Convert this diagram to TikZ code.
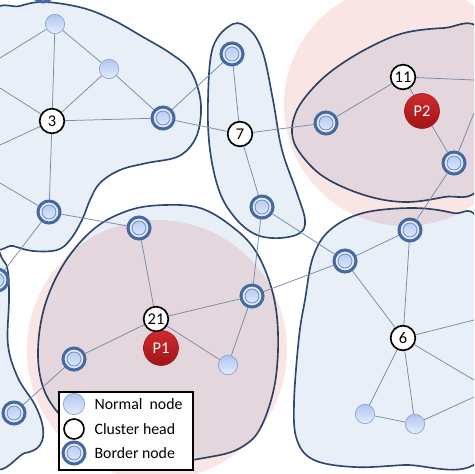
\documentclass[tikz,border=0pt]{standalone}
\usepackage{fontspec}
\setmainfont{Carlito}
\usetikzlibrary{backgrounds}
\definecolor{ClusterFill}{RGB}{233,239,247}
\definecolor{ClusterLine}{RGB}{45,72,110}
\definecolor{ZonePink}{RGB}{250,229,229}
\definecolor{LinkGray}{RGB}{120,140,168}
\definecolor{NodeTop}{RGB}{176,198,240}
\definecolor{NodeBottom}{RGB}{228,237,253}
\definecolor{NodeEdge}{RGB}{135,165,212}
\definecolor{RingBlue}{RGB}{70,105,160}
\definecolor{PeerRed}{RGB}{208,42,44}
\definecolor{PeerRedDark}{RGB}{160,20,24}

\begin{document}
\begin{tikzpicture}[
        x=0.03cm, y=-0.03cm,
        normal/.style={circle, minimum size=0.58cm, inner sep=0pt, draw=NodeEdge, line width=0.6pt, top color=NodeTop, bottom color=NodeBottom},
        border/.style={circle, minimum size=0.66cm, inner sep=0pt, draw=RingBlue, line width=2.6pt, fill=NodeBottom,
            path picture={\draw[NodeEdge!70!RingBlue, line width=0.8pt, top color=NodeTop, bottom color=NodeBottom] (path picture bounding box.center) circle (0.21cm);}},
        head/.style={circle, minimum size=0.74cm, inner sep=0pt, draw=black, line width=1.4pt, fill=white, font=\fontsize{14}{14}\selectfont},
        peer/.style={circle, minimum size=1.05cm, inner sep=0pt, top color=PeerRed, bottom color=PeerRedDark, draw=PeerRedDark, line width=0.5pt, text=white, font=\fontsize{14}{14}\selectfont},
        link/.style={draw=LinkGray, line width=0.65pt},
        cluster/.style={fill=ClusterFill, draw=ClusterLine, line width=1.4pt},
        zone/.style={fill=ZonePink},
        legendtext/.style={anchor=west, inner sep=2pt, font=\fontsize{13.5}{15}\selectfont}
    ]
        \useasboundingbox (0,0) rectangle (474,474);
        \clip (0,0) rectangle (474,474);

        \node (b0) [border] at (43,-9) {};
        \node (n1) [normal] at (55,24) {};
        \node (n2) [normal] at (109,69) {};
        \node (c3) [head] at (52,121) {3};
        \node (b1) [border] at (163,118) {};
        \node (b2) [border] at (49,212) {};
        \node (b3) [border] at (139,228) {};
        \node (b4) [border] at (232,54) {};
        \node (c7) [head] at (240,134) {7};
        \node (b5) [border] at (262,207) {};
        \node (b6) [border] at (326,123) {};
        \node (c11) [head] at (403,77) {11};
        \node (p2) [peer] at (422,111) {P2};
        \node (b7) [border] at (454,163) {};
        \node (b8) [border] at (410,230) {};
        \node (b9) [border] at (345,261) {};
        \node (c6) [head] at (403,338) {6};
        \node (n3) [normal] at (365,414) {};
        \node (n4) [normal] at (415,424) {};
        \node (b10) [border] at (252,296) {};
        \node (p1) [peer] at (161,348) {P1};
        \node (c21) [head] at (156,319) {21};
        \node (b11) [border] at (74,359) {};
        \node (n5) [normal] at (228,365) {};
        \node (b12) [border] at (14,413) {};
        \node (b13) [border] at (-3,280) {};

        \coordinate (w1) at (0,58);
        \coordinate (w2) at (0,88);
        \coordinate (w3) at (0,145);
        \coordinate (w4) at (0,183);
        \coordinate (e1) at (474,80);
        \coordinate (e2) at (474,113);
        \coordinate (e3) at (474,320);
        \coordinate (e4) at (474,380);
        \coordinate (e5) at (474,397);

        \begin{scope}[on background layer]
            \clip (0,0) rectangle (474,474);
            \fill[white] (0,0) rectangle (474,474);
            \path[cluster] plot[smooth cycle, tension=0.6] coordinates {(-10,18) (20,6) (45,2) (83,8) (113,20) (143,37) (170,53) (190,70) (200,97) (200,123) (193,143) (177,157) (147,163) (120,170) (100,183) (90,200) (82,220) (70,240) (57,250) (33,251) (13,246) (-10,240) (-25,130)};
            \path[cluster] plot[smooth cycle, tension=0.6] coordinates {(233,24) (250,30) (263,53) (273,100) (282,150) (297,193) (305,220) (300,233) (280,238) (257,235) (237,220) (220,193) (210,150) (208,100) (213,47)};
            \path[cluster] plot[smooth cycle, tension=0.6] coordinates {(292,133) (297,110) (314,87) (337,67) (370,47) (404,33) (444,28) (480,29) (510,100) (480,187) (444,197) (404,202) (364,195) (324,177) (300,153)};
            \path[cluster] plot[smooth cycle, tension=0.6] coordinates {(305,300) (313,257) (330,230) (363,213) (413,208) (453,213) (480,224) (510,350) (480,460) (404,465) (354,467) (314,460) (297,440) (294,403) (299,337)};
            \path[cluster] plot[smooth cycle, tension=0.6] coordinates {(60,415) (43,387) (38,350) (45,305) (65,262) (95,228) (130,210) (165,205) (200,208) (230,225) (255,250) (272,290) (278,333) (275,383) (262,425) (245,445) (215,456) (150,462) (90,440)};
            \path[cluster] plot[smooth cycle, tension=0.6] coordinates {(-10,255) (3,260) (8,272) (9,300) (8,345) (18,378) (35,405) (43,428) (40,445) (25,453) (-10,455)};
            \begin{scope}[blend mode=multiply]
                \path[zone] (157,350) circle (130);
                \path[zone] (405,105) circle (121);
            \end{scope}

            \draw[link] (n1) -- (c3);
            \draw[link] (n2) -- (c3);
            \draw[link] (b1) -- (c3);
            \draw[link] (b2) -- (c3);
            \draw[link] (n1) -- (n2);
            \draw[link] (n2) -- (b1);
            \draw[link] (b1) -- (b4);
            \draw[link] (b1) -- (c7);
            \draw[link] (c3) -- (w2);
            \draw[link] (c3) -- (w3);
            \draw[link] (n1) -- (w1);
            \draw[link] (b2) -- (w4);
            \draw[link] (b2) -- (b13);
            \draw[link] (b2) -- (b3);
            \draw[link] (b4) -- (c7);
            \draw[link] (c7) -- (b5);
            \draw[link] (c7) -- (b6);
            \draw[link] (b5) -- (b10);
            \draw[link] (b5) -- (b9);
            \draw[link] (b9) -- (b10);
            \draw[link] (b9) -- (b8);
            \draw[link] (b9) -- (c6);
            \draw[link] (b8) -- (c6);
            \draw[link] (b8) -- (b7);
            \draw[link] (c11) -- (b6);
            \draw[link] (c11) -- (e1);
            \draw[link] (c11) -- (b7);
            \draw[link] (b7) -- (e2);
            \draw[link] (c6) -- (e3);
            \draw[link] (c6) -- (e4);
            \draw[link] (c6) -- (n3);
            \draw[link] (c6) -- (n4);
            \draw[link] (n3) -- (n4);
            \draw[link] (n4) -- (e5);
            \draw[link] (c21) -- (b3);
            \draw[link] (c21) -- (b10);
            \draw[link] (c21) -- (b11);
            \draw[link] (c21) -- (n5);
            \draw[link] (n5) -- (b10);
            \draw[link] (b11) -- (b12);
        \end{scope}

        \node (legend) [draw=black, line width=1pt, fill=white, minimum width=4.02cm, minimum height=2.34cm, inner sep=0pt] at (126,431) {};
        \node (lnormal) [normal, minimum size=0.64cm] at (74,404) {};
        \node (lhead) [head, minimum size=0.6cm] at (74,429) {};
        \node (lborder) [border] at (74,453) {};
        \node (tnormal) [legendtext] at (92,404) {Normal\ \ node};
        \node (thead) [legendtext] at (92,429) {Cluster head};
        \node (tborder) [legendtext] at (92,453) {Border node};
    \end{tikzpicture}
\end{document}
